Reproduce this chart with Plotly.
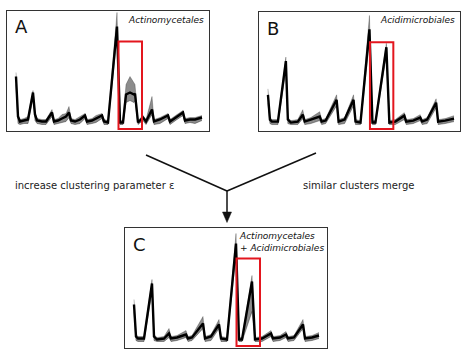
import plotly.graph_objects as go

W, H = 474, 361

# ---------------- data (relative intensity vs retention index) ----------------
pos_a = [0, 2, 4, 8, 12, 17, 19, 21, 26, 30, 36, 38, 42, 46, 50, 53, 55, 59, 64, 69,
         71, 76, 80, 86, 88, 92, 101, 104, 107, 110, 114, 118, 119, 122, 127, 130, 136,
         138, 144, 152, 154, 161, 167, 169, 174, 179, 186]
main_a = [48, 8, 3, 4, 5, 32, 10, 4, 3, 3, 12, 3, 4, 6, 8, 12, 4, 3, 5, 9,
          3, 4, 6, 9, 3, 2, 98, 2, 2, 30, 32, 30, 31, 2, 7, 3, 15,
          3, 5, 9, 3, 8, 12, 4, 5, 5, 7]
upper_a = [52, 10, 5, 6, 8, 34, 12, 6, 5, 5, 15, 5, 6, 10, 11, 18, 6, 5, 8, 11,
           5, 6, 9, 11, 5, 4, 112, 4, 4, 40, 48, 42, 40, 4, 9, 5, 28,
           5, 7, 11, 5, 10, 14, 6, 7, 7, 9]
lower_a = [40, 1, 0, 1, 1, 26, 4, 1, 0, 0, 8, 0, 1, 2, 3, 7, 1, 0, 1, 6,
           0, 1, 2, 6, 0, 0, 88, 0, 0, 22, 24, 22, 24, 0, 4, 0, 10,
           0, 1, 6, 0, 5, 9, 1, 2, 1, 4]

pos_b = [0, 2, 4, 10, 18, 20, 23, 30, 35, 37, 43, 52, 54, 58, 69, 71, 77, 86, 88, 93,
         102, 105, 108, 119, 122, 128, 137, 139, 146, 153, 155, 160, 169, 171, 178, 187]
main_b = [30, 5, 3, 3, 64, 5, 2, 3, 10, 3, 5, 8, 3, 4, 25, 3, 5, 25, 3, 2,
          96, 2, 2, 78, 2, 3, 9, 3, 4, 7, 3, 5, 22, 3, 4, 6]
upper_b = [36, 7, 5, 5, 68, 7, 4, 5, 15, 5, 7, 13, 5, 6, 30, 5, 7, 30, 5, 4,
           110, 4, 4, 82, 4, 5, 12, 5, 6, 10, 5, 7, 26, 5, 6, 9]
lower_b = [22, 1, 0, 0, 55, 1, 0, 0, 6, 0, 1, 4, 0, 1, 19, 0, 1, 19, 0, 0,
           85, 0, 0, 70, 0, 0, 5, 0, 1, 4, 0, 1, 17, 0, 1, 3]

pos_c = [0, 2, 4, 10, 18, 20, 23, 30, 35, 37, 43, 52, 54, 58, 69, 71, 77, 85, 87, 93,
         102, 105, 108, 118, 121, 128, 137, 139, 146, 152, 154, 160, 169, 171, 178, 185]
main_c = [37, 5, 3, 3, 58, 5, 2, 3, 8, 3, 4, 7, 3, 4, 18, 3, 5, 17, 3, 2,
          98, 2, 2, 60, 2, 3, 8, 3, 4, 7, 3, 4, 17, 3, 4, 6]
upper_c = [42, 7, 5, 5, 62, 7, 4, 5, 13, 5, 6, 11, 5, 6, 25, 5, 7, 22, 5, 4,
           108, 4, 4, 66, 4, 5, 11, 5, 6, 10, 5, 6, 22, 5, 6, 9]
lower_c = [30, 1, 0, 0, 50, 1, 0, 0, 4, 0, 1, 4, 0, 1, 13, 0, 1, 13, 0, 0,
           88, 0, 0, 30, 0, 0, 5, 0, 1, 4, 0, 1, 13, 0, 1, 3]

panel_letters = ["A", "B", "C"]
panel_titles = ["Actinomycetales", "Acidimicrobiales",
                "Actinomycetales<br>+ Acidimicrobiales"]
left_text = "increase clustering parameter ε"
right_text = "similar clusters merge"

# ---------------- figure ----------------
fig = go.Figure()

def px_x(v):
    return v / W

def px_y(v):
    return 1 - v / H

panels = [
    dict(pos=pos_a, main=main_a, up=upper_a, lo=lower_a, box=(7, 209, 11, 131), ax=""),
    dict(pos=pos_b, main=main_b, up=upper_b, lo=lower_b, box=(259, 460, 12, 131), ax="2"),
    dict(pos=pos_c, main=main_c, up=upper_c, lo=lower_c, box=(125, 327, 228, 348), ax="3"),
]

for i, p in enumerate(panels):
    xa = "x" + p["ax"]
    ya = "y" + p["ax"]
    fig.add_trace(go.Scatter(x=p["pos"], y=p["lo"], mode="lines",
                             line=dict(color="rgba(0,0,0,0.45)", width=0.8),
                             xaxis=xa, yaxis=ya, showlegend=False, hoverinfo="skip"))
    fig.add_trace(go.Scatter(x=p["pos"], y=p["up"], mode="lines", fill="tonexty",
                             fillcolor="rgba(0,0,0,0.45)",
                             line=dict(color="rgba(0,0,0,0.3)", width=0.8),
                             xaxis=xa, yaxis=ya, showlegend=False, hoverinfo="skip"))
    fig.add_trace(go.Scatter(x=p["pos"], y=p["main"], mode="lines",
                             line=dict(color="black", width=2.4),
                             xaxis=xa, yaxis=ya, showlegend=False, hoverinfo="skip"))
    x0, x1, y0, y1 = p["box"]
    axis_common = dict(showgrid=False, zeroline=False, showticklabels=False, ticks="",
                       showline=True, mirror=True, linecolor="#333", linewidth=1.3,
                       fixedrange=True)
    fig.update_layout(**{
        "xaxis" + p["ax"]: dict(domain=[px_x(x0), px_x(x1)], range=[-9, 193],
                                anchor=ya, **axis_common),
        "yaxis" + p["ax"]: dict(domain=[px_y(y1), px_y(y0)], range=[-6.5, 113.5],
                                anchor=xa, **axis_common),
    })
    # red box
    fig.add_shape(type="rect", xref=xa, yref=ya, x0=102.5, x1=126, y0=-4.5, y1=83,
                  line=dict(color="#e3161e", width=2), fillcolor="rgba(0,0,0,0)")
    # panel letter
    fig.add_annotation(xref="paper", yref="paper", x=px_x(x0 + 6), y=px_y(y0 + 16),
                       text=panel_letters[i], showarrow=False, xanchor="left",
                       yanchor="middle", font=dict(size=18, color="#111",
                                                   family="DejaVu Sans"))

# titles
fig.add_annotation(xref="paper", yref="paper", x=px_x(206), y=px_y(20),
                   text="<i>" + panel_titles[0] + "</i>", showarrow=False,
                   xanchor="right", yanchor="middle",
                   font=dict(size=9, color="#111", family="DejaVu Sans"))
fig.add_annotation(xref="paper", yref="paper", x=px_x(457), y=px_y(20),
                   text="<i>" + panel_titles[1] + "</i>", showarrow=False,
                   xanchor="right", yanchor="middle",
                   font=dict(size=9, color="#111", family="DejaVu Sans"))
fig.add_annotation(xref="paper", yref="paper", x=px_x(237), y=px_y(241.5),
                   text="<i>" + panel_titles[2] + "</i>", showarrow=False,
                   xanchor="left", yanchor="middle", align="left",
                   font=dict(size=9, color="#111", family="DejaVu Sans"))

# arrow text
fig.add_annotation(xref="paper", yref="paper", x=px_x(13), y=px_y(185),
                   text=left_text, showarrow=False, xanchor="left", yanchor="middle",
                   font=dict(size=10, color="#222", family="DejaVu Sans"))
fig.add_annotation(xref="paper", yref="paper", x=px_x(301), y=px_y(185),
                   text=right_text, showarrow=False, xanchor="left", yanchor="middle",
                   font=dict(size=10, color="#222", family="DejaVu Sans"))

# merging arrow
for (xa_, ya_) in [(146, 155), (316, 153)]:
    fig.add_shape(type="line", xref="paper", yref="paper",
                  x0=px_x(xa_), y0=px_y(ya_), x1=px_x(227), y1=px_y(191),
                  line=dict(color="#111", width=1.5))
fig.add_shape(type="line", xref="paper", yref="paper",
              x0=px_x(227), y0=px_y(191), x1=px_x(227), y1=px_y(213),
              line=dict(color="#111", width=1.5))
fig.add_shape(type="path", xref="paper", yref="paper",
              path=f"M {px_x(222.5)} {px_y(212)} L {px_x(231.5)} {px_y(212)} "
                   f"L {px_x(227)} {px_y(222.5)} Z",
              fillcolor="#111", line=dict(color="#111", width=0.5))

fig.update_layout(width=W, height=H, margin=dict(l=0, r=0, t=0, b=0),
                  paper_bgcolor="white", plot_bgcolor="white", hovermode=False)

fig.write_html("out.html", config={"displayModeBar": False, "staticPlot": True},
               post_script="document.body.style.margin='0';"
                           "document.body.style.padding='0';")
